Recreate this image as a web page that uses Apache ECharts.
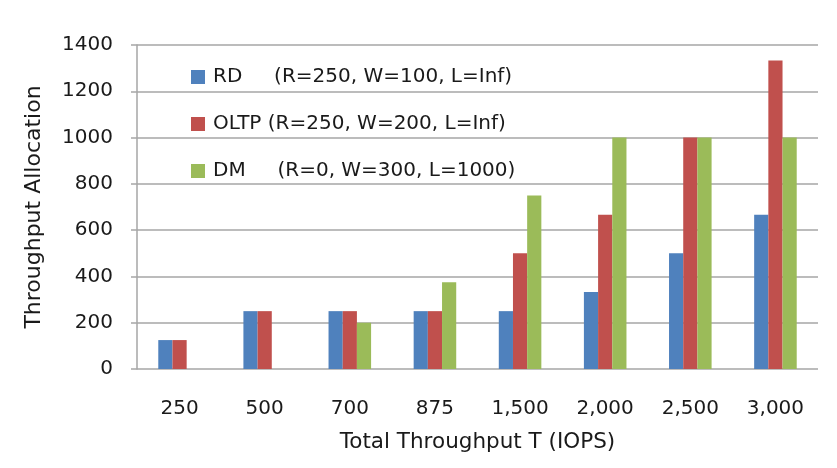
<!DOCTYPE html>
<html>
<head>
<meta charset="utf-8">
<script src="https://cdn.jsdelivr.net/npm/echarts@6/dist/echarts.min.js"></script>
<style>html,body{margin:0;padding:0;background:#fff;}#c{width:837px;height:468px;}</style>
</head>
<body>
<div id="c"></div>
<script>
const categories = ['250', '500', '700', '875', '1,500', '2,000', '2,500', '3,000'];
const rdValues = [125, 250, 250, 250, 250, 333, 500, 667];
const oltpValues = [125, 250, 250, 250, 500, 667, 1000, 1333];
const dmValues = [0, 0, 200, 375, 750, 1000, 1000, 1000];
const seriesNames = ['RD     (R=250, W=100, L=Inf)', 'OLTP (R=250, W=200, L=Inf)', 'DM     (R=0, W=300, L=1000)'];
const yTicks = { min: 0, max: 1400, interval: 200 };

const chart = echarts.init(document.getElementById('c'));
const font = 'DejaVu Sans';
const ink = '#1a1a1a';
chart.setOption({
  animation: false,
  textStyle: { fontFamily: font },
  grid: { left: 137, right: 19, top: 45, bottom: 99 },
  legend: {
    orient: 'vertical', left: 186, top: 62,
    itemWidth: 14, itemHeight: 14, itemGap: 27,
    icon: 'rect',
    textStyle: { fontFamily: font, fontSize: 20, color: ink, padding: [0, 0, 0, 3] },
    data: seriesNames
  },
  xAxis: {
    type: 'category', data: categories,
    name: 'Total Throughput T (IOPS)', nameLocation: 'middle', nameGap: 62,
    nameTextStyle: { fontFamily: font, fontSize: 21.5, color: ink },
    axisLine: { show: false }, axisTick: { show: false },
    axisLabel: { fontFamily: font, fontSize: 20, color: ink, margin: 30 }
  },
  yAxis: {
    type: 'value', min: yTicks.min, max: yTicks.max, interval: yTicks.interval,
    name: 'Throughput Allocation', nameLocation: 'middle', nameGap: 92,
    nameTextStyle: { fontFamily: font, fontSize: 22, color: ink },
    axisLine: { show: true, lineStyle: { color: '#a6a6a6', width: 1.5 } },
    axisTick: { show: true, length: 6, lineStyle: { color: '#a6a6a6', width: 1.5 } },
    axisLabel: { fontFamily: font, fontSize: 20, color: ink, margin: 24, formatter: v => String(v) },
    splitLine: { lineStyle: { color: '#a6a6a6', width: 1.5 } }
  },
  series: [
    { name: seriesNames[0], type: 'bar', data: rdValues, barGap: '0%', barCategoryGap: '50%', itemStyle: { color: '#4F81BD' } },
    { name: seriesNames[1], type: 'bar', data: oltpValues, itemStyle: { color: '#C0504D' } },
    { name: seriesNames[2], type: 'bar', data: dmValues, itemStyle: { color: '#9BBB59' } }
  ]
});
</script>
</body>
</html>
